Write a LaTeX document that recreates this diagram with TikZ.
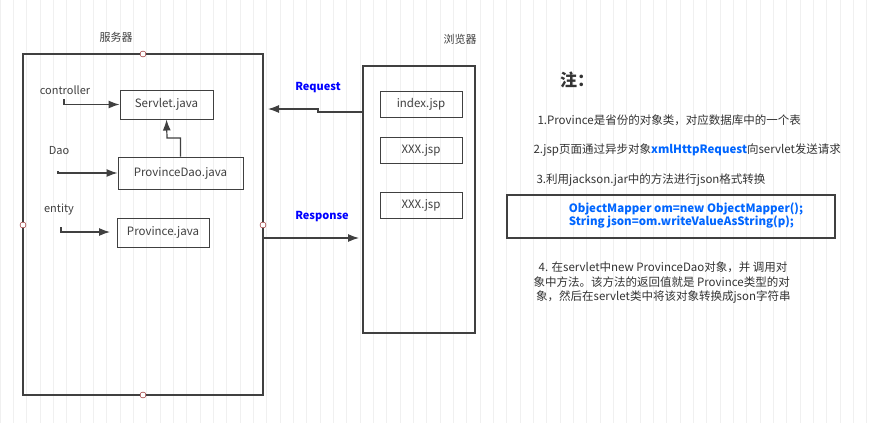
\documentclass[tikz,border=0pt]{standalone}
\usepackage{fontspec}
\usetikzlibrary{arrows.meta}
\setmainfont{Noto Sans CJK SC}
\begin{document}
\begin{tikzpicture}[x=1pt,y=-1pt,
  box/.style={draw=black!75,line width=1.2pt,inner sep=0pt},
  item/.style={draw=black!75,line width=1pt,minimum height=27pt,inner sep=0pt,font=\fontsize{11.5}{13}\selectfont,text=black!75},
  lbl/.style={font=\fontsize{11}{12}\selectfont,text=black!75},
  arr/.style={draw=black!75,line width=1.2pt,-{Latex[length=11pt,width=8pt]}},
  port/.style={circle,draw=red!50!black,fill=white,inner sep=0pt,minimum size=6pt},
  blu/.style={font=\bfseries\fontsize{11}{12}\selectfont,text=blue},
  note/.style={font=\fontsize{11.5}{14.5}\selectfont,text=black!80,anchor=west}]
\useasboundingbox (0,0) rectangle (877,423);
\fill[white] (0,0) rectangle (877,423);
\draw[black!6,step=13.33] (0,0) grid (877,423);
% server
\node[box,minimum width=240pt,minimum height=341pt] (srv) at (143,224.5) {};
\node[lbl] (srvl) at (116,37) {服务器};
\node[port] (p1) at (143,54) {};
\node[port] (p2) at (23,225) {};
\node[port] (p3) at (263,225) {};
\node[port] (p4) at (143,395) {};
\node[item,minimum width=93pt,minimum height=29pt] (servlet) at (166.5,104.5) {Servlet.java};
\node[item,minimum width=125pt,minimum height=32pt] (dao) at (180.5,173) {ProvinceDao.java};
\node[item,minimum width=92pt,minimum height=29pt] (prov) at (163,232.5) {Province.java};
\node[lbl] (ctl) at (65,90) {controller};
\node[lbl] (daol) at (59,151) {Dao};
\node[lbl] (ent) at (59,210) {entity};
\coordinate (c1) at (64,99);
\coordinate (c2) at (58,171);
\coordinate (c3) at (61,227);
\draw[arr] (c1) |- (servlet.west);
\draw[arr] (c2) |- (dao.west);
\draw[arr] (c3) |- (110,232);
\draw[arr] (dao.north) |- (167,138) -- (servlet.south);
% browser
\node[box,minimum width=112pt,minimum height=267pt] (br) at (419,199.5) {};
\node[lbl] (brl) at (460,39) {浏览器};
\node[item,minimum width=82pt,minimum height=26pt] (idx) at (421,104) {index.jsp};
\node[item,minimum width=82pt,minimum height=26pt] (x1) at (421,150) {XXX.jsp};
\node[item,minimum width=82pt,minimum height=26pt] (x2) at (421,205) {XXX.jsp};
\coordinate (rq) at (268,109);
\draw[arr] (363,112) -- (318,112) -- (318,109) -- (rq);
\coordinate (rs) at (359,238);
\draw[arr] (263,238) -- (rs);
\node[blu] (rql) at (318,88) {Request};
\node[blu] (rsl) at (322,217) {Response};
% notes
\node[font=\bfseries\fontsize{17}{19}\selectfont,text=black!80] (zhu) at (577,80) {注：};
\node[note] (n1) at (534,120) {1.Province是省份的对象类，对应数据库中的一个表};
\node[note] (n2) at (530,150) {2.jsp页面通过异步对象\textcolor{blue!60!cyan}{\bfseries xmlHttpRequest}向servlet发送请求};
\node[note] (n3) at (533,180) {3.利用jackson.jar中的方法进行json格式转换};
\node[draw=black!75,line width=1.2pt,minimum width=328pt,minimum height=43pt] (code) at (671,216.5) {};
\node[font=\bfseries\fontsize{11.5}{13}\selectfont,text=blue!60!cyan,align=left] (codet) at (686,216) {ObjectMapper om=new ObjectMapper();\\String json=om.writeValueAsString(p);};
\node[note,align=left] (n4) at (530,283) {\ \ 4. 在servlet中new ProvinceDao对象，并 调用对\\象中方法。该方法的返回值就是 Province类型的对\\\ 象，然后在servlet类中将该对象转换成json字符串};
\end{tikzpicture}
\end{document}
